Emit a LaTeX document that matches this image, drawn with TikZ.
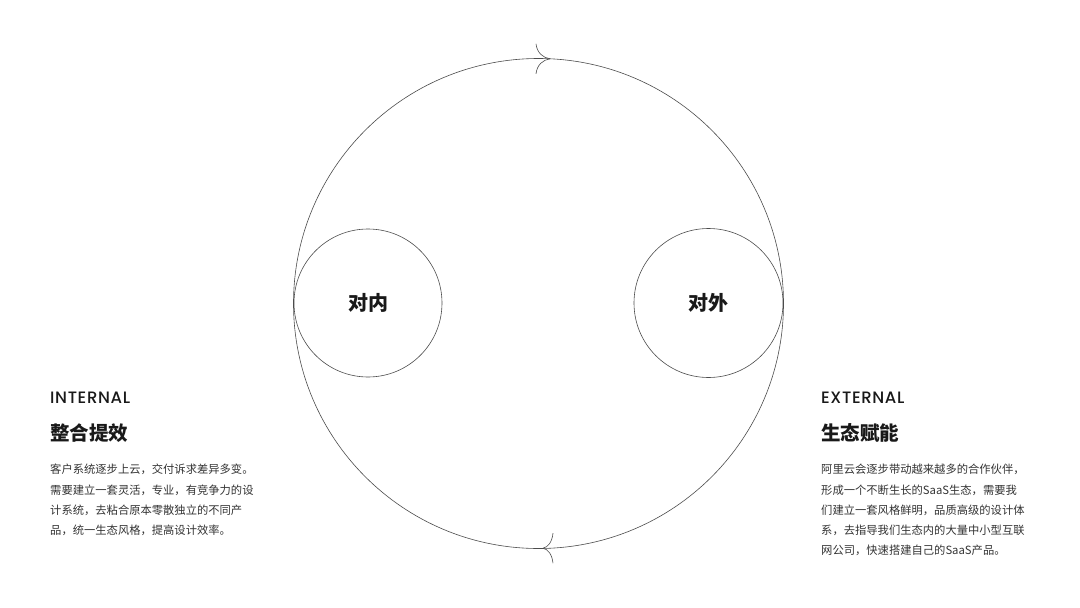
\documentclass[tikz,border=0pt]{standalone}
\usepackage{fontspec}
\setmainfont{Poppins}
\newfontfamily\popm[BoldFont={Poppins Medium},LetterSpace=4]{Poppins}
\newfontfamily\cjk{Noto Sans CJK SC}
\usetikzlibrary{calc}
\begin{document}
\begin{tikzpicture}[x=1pt,y=-1pt,
  ring/.style={circle,draw=black!70,line width=0.6pt,inner sep=0pt,outer sep=0pt},
  tipline/.style={draw=black!70,line width=0.6pt},
  entitle/.style={anchor=base west,inner sep=0pt,font=\popm\bfseries\fontsize{16.5}{18}\selectfont,text=black!90},
  cntitle/.style={anchor=base west,inner sep=0pt,font=\cjk\bfseries\fontsize{19.5}{22}\selectfont,text=black!90},
  body/.style={anchor=base west,inner sep=0pt,font=\cjk\fontsize{11.3}{14}\selectfont,text=black!80},
  label/.style={font=\cjk\bfseries\fontsize{20}{24}\selectfont,text=black!90}]
\useasboundingbox (0,0) rectangle (1080,608);
\fill[white] (0,0) rectangle (1080,608);
% circles
\node[ring,minimum size=490pt] (big) at (538.5,303.5) {};
\node[ring,minimum size=148pt] (inner) at (368,303) {};
\node[ring,minimum size=149pt] (outer) at (708.5,303) {};
\node[label] (innerlabel) at (inner.center) {对内};
\node[label] (outerlabel) at (outer.center) {对外};
% arrow tips on the big circle
\coordinate (ttip) at (550,58.8);
\coordinate (btip) at (543,548.2);
\draw[tipline] ($(ttip)+(-14,-15)$) .. controls ($(ttip)+(-13,-6)$) and ($(ttip)+(-7,-1)$) .. (ttip);
\draw[tipline] ($(ttip)+(-14,15)$) .. controls ($(ttip)+(-13,6)$) and ($(ttip)+(-7,1)$) .. (ttip);
\draw[tipline] ($(btip)+(10,-15)$) .. controls ($(btip)+(9,-6)$) and ($(btip)+(5,-1)$) .. (btip);
\draw[tipline] ($(btip)+(10,15)$) .. controls ($(btip)+(9,6)$) and ($(btip)+(5,1)$) .. (btip);
% left text
\node[entitle] (intitle) at (50,403.5) {INTERNAL};
\node[cntitle] (incn) at (50,440) {整合提效};
\node[body] (l1) at (50,473.5) {客户系统逐步上云，交付诉求差异多变。};
\node[body] (l2) at (50,494) {需要建立一套灵活，专业，有竞争力的设};
\node[body] (l3) at (50,514) {计系统，去粘合原本零散独立的不同产};
\node[body] (l4) at (50,534) {品，统一生态风格，提高设计效率。};
% right text
\node[entitle] (extitle) at (821,403.5) {EXTERNAL};
\node[cntitle] (excn) at (821,440) {生态赋能};
\node[body] (r1) at (821,473.5) {阿里云会逐步带动越来越多的合作伙伴，};
\node[body] (r2) at (821,494) {形成一个不断生长的SaaS生态，需要我};
\node[body] (r3) at (821,514) {们建立一套风格鲜明，品质高级的设计体};
\node[body] (r4) at (821,534) {系，去指导我们生态内的大量中小型互联};
\node[body] (r5) at (821,554) {网公司，快速搭建自己的SaaS产品。};
\end{tikzpicture}
\end{document}
